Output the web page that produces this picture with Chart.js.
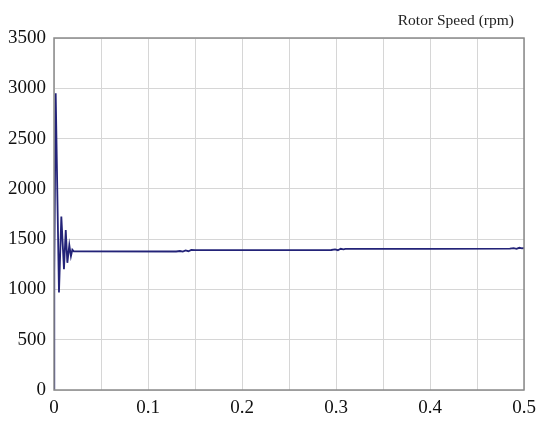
<!DOCTYPE html>
<html>
<head>
<meta charset="utf-8">
<script src="https://cdn.jsdelivr.net/npm/chart.js@4/dist/chart.umd.min.js"></script>
<style>
html,body{margin:0;padding:0;background:#fff;}
#wrap{width:550px;height:426px;}
</style>
</head>
<body>
<div id="wrap"><canvas id="c" width="550" height="426"></canvas></div>
<script>
const timeS = [0, 0.0003, 0.0018, 0.0053, 0.0078, 0.0106, 0.0125, 0.0142, 0.0163, 0.018, 0.0195, 0.021,
  0.13, 0.134, 0.137, 0.14, 0.143, 0.146, 0.15, 0.2, 0.25, 0.295, 0.299, 0.302, 0.305, 0.308, 0.31,
  0.4, 0.485, 0.489, 0.492, 0.495, 0.498, 0.5];
const speedRpm = [0, 1170, 2950, 970, 1725, 1200, 1590, 1265, 1440, 1330, 1395, 1378,
  1377, 1382, 1376, 1388, 1380, 1392, 1390, 1390, 1391, 1392, 1398, 1390, 1404, 1398, 1403,
  1404, 1405, 1410, 1403, 1414, 1408, 1412];
const yTicks = [0, 500, 1000, 1500, 2000, 2500, 3000, 3500];
const xTickLabels = ['0', '0.1', '0.2', '0.3', '0.4', '0.5'];
const titleText = 'Rotor Speed (rpm)';

const pts = timeS.map((t, i) => ({x: t, y: speedRpm[i]}));
const FONT = "'Liberation Serif', 'Times New Roman', serif";

const framePlugin = {
  id: 'frame',
  afterDraw(chart) {
    const a = chart.chartArea, ctx = chart.ctx;
    ctx.save();
    ctx.strokeStyle = '#8a8a8a';
    ctx.lineWidth = 1.5;
    ctx.strokeRect(a.left, a.top, a.right - a.left, a.bottom - a.top);
    ctx.fillStyle = '#222';
    ctx.font = "15.5px " + FONT;
    ctx.textAlign = 'right';
    ctx.textBaseline = 'alphabetic';
    ctx.fillText(titleText, a.right - 10, 25);
    ctx.restore();
  }
};

new Chart(document.getElementById('c'), {
  type: 'line',
  data: {
    datasets: [{
      data: pts,
      borderColor: '#232378',
      borderWidth: 1.8,
      pointRadius: 0,
      tension: 0,
      fill: false
    }]
  },
  plugins: [framePlugin],
  options: {
    responsive: false,
    animation: false,
    layout: {padding: {left: 0, right: 26, top: 38, bottom: 0}},
    plugins: {
      legend: {display: false},
      tooltip: {enabled: false},
      title: {display: false}
    },
    scales: {
      x: {
        type: 'linear',
        min: 0, max: 0.5,
        afterBuildTicks(s) {
          const t = [];
          for (let i = 0; i <= 10; i++) t.push({value: i * 0.05});
          s.ticks = t;
        },
        ticks: {
          color: '#111',
          font: {family: FONT, size: 19},
          maxRotation: 0,
          autoSkip: false,
          padding: 7,
          callback(v, idx) { return idx % 2 === 0 ? xTickLabels[idx / 2] : ''; }
        },
        grid: {color: '#d6d6d6', lineWidth: 1, drawTicks: false},
        border: {display: false},
        afterFit(s) { s.height = 36; }
      },
      y: {
        min: 0, max: 3500,
        afterBuildTicks(s) { s.ticks = yTicks.map(v => ({value: v})); },
        ticks: {
          color: '#111',
          font: {family: FONT, size: 19},
          padding: 8,
          autoSkip: false,
          callback(v) { return String(v); }
        },
        grid: {color: '#d6d6d6', lineWidth: 1, drawTicks: false},
        border: {display: false},
        afterFit(s) { s.width = 54; }
      }
    }
  }
});
</script>
</body>
</html>
